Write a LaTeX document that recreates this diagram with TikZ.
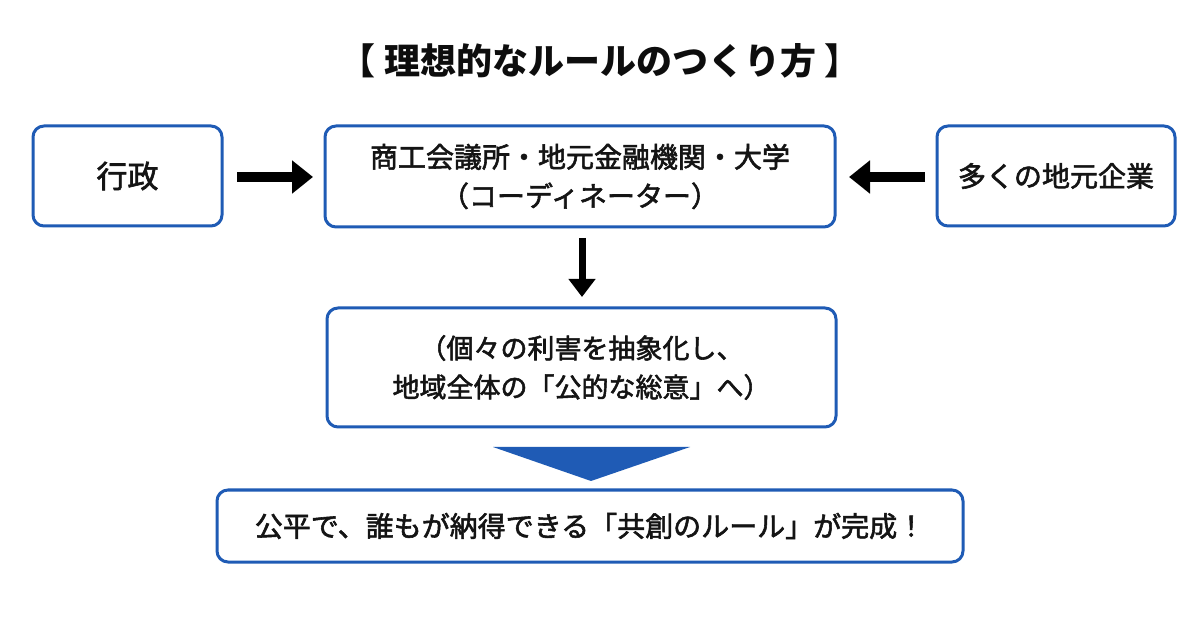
\documentclass[tikz,border=0pt]{standalone}
\usepackage{fontspec}
\newfontfamily\cjk[FakeBold=2]{Noto Sans CJK JP}
\newfontfamily\cjkb{Noto Sans CJK JP}
\usetikzlibrary{arrows.meta}
\definecolor{boxblue}{HTML}{1F5BB5}
\begin{document}
\begin{tikzpicture}[x=1pt,y=-1pt,
  box/.style={draw=boxblue,line width=3pt,rounded corners=11pt,fill=white,inner sep=0pt},
  txt/.style={font=\cjk\fontsize{28}{39}\selectfont,align=center,text=black!92},
  blk/.style={line width=10pt,-{Triangle[length=21pt,width=32pt]},black}]
\useasboundingbox[fill=white] (0,0) rectangle (1200,617);
% boxes
\node[box,minimum width=189pt,minimum height=100pt] (gov) at (127.5,176) {};
\node[box,minimum width=510pt,minimum height=101pt] (hub) at (580,176.5) {};
\node[box,minimum width=238pt,minimum height=100pt] (firms) at (1056,176) {};
\node[box,minimum width=509pt,minimum height=119pt] (mid) at (581.5,367.5) {};
\node[box,minimum width=746pt,minimum height=72pt] (res) at (590,526) {};
% texts
\node[font=\cjkb\bfseries\fontsize{36}{42}\selectfont,text=black!95] (title) at (600,61) {【 理想的なルールのつくり方 】};
\node[txt,font=\cjk\fontsize{31}{39}\selectfont] at (gov) {行政};
\node[txt] at (hub) {商工会議所・地元金融機関・大学\\（コーディネーター）};
\node[txt] at (firms) {多くの地元企業};
\node[txt,font=\cjk\fontsize{27}{39}\selectfont] at (mid) {（個々の利害を抽象化し、\\地域全体の「公的な総意」へ）};
\node[txt] at (res) {公平で、誰もが納得できる「共創のルール」が完成！};
% arrows
\coordinate (a1s) at (237,177);
\coordinate (a1e) at (313,177);
\draw[blk] (a1s) -- (a1e);
\coordinate (a2s) at (925,177);
\coordinate (a2e) at (849,177);
\draw[blk] (a2s) -- (a2e);
\coordinate (a3s) at (582,238);
\coordinate (a3e) at (582,297);
\draw[blk,line width=7pt,-{Triangle[length=18pt,width=26pt]}] (a3s) -- (a3e);
% blue triangle
\fill[boxblue] (493,447) -- (690,447) -- (591,481) -- cycle;
\end{tikzpicture}
\end{document}
